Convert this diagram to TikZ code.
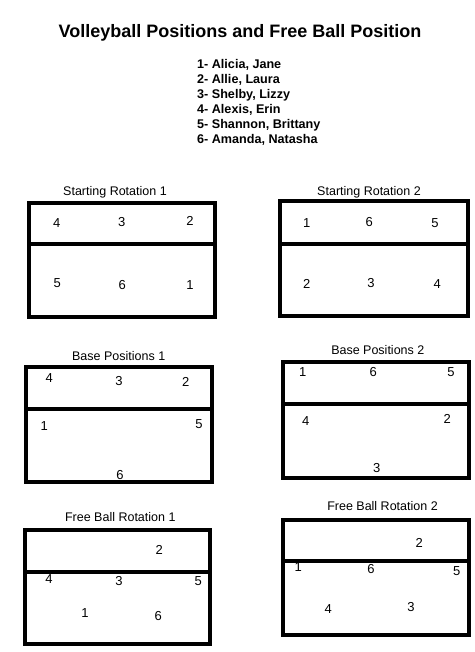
\documentclass[tikz,border=0pt]{standalone}
\usepackage{fontspec}
\setmainfont{Liberation Sans}
\begin{document}
\begin{tikzpicture}[x=1pt,y=-1pt,
  court/.style={line width=4pt, line join=miter},
  num/.style={inner sep=0pt, anchor=center, font=\fontsize{13}{15}\selectfont},
  ctitle/.style={inner sep=0pt, anchor=base, font=\fontsize{12.5}{15}\selectfont},
  maintitle/.style={inner sep=0pt, anchor=base, font=\fontsize{18}{22}\selectfont\bfseries},
  listline/.style={inner sep=0pt, anchor=base west, font=\fontsize{12.6}{15}\selectfont\bfseries}]
\useasboundingbox[fill=white] (0,0) rectangle (474,652);
% header
\node[maintitle] (title) at (240,37.5) {Volleyball Positions and Free Ball Position};
\node[listline] (l1) at (197,68.5) {1- Alicia, Jane};
\node[listline] (l2) at (197,83.5) {2- Allie, Laura};
\node[listline] (l3) at (197,98.5) {3- Shelby, Lizzy};
\node[listline] (l4) at (197,113.5) {4- Alexis, Erin};
\node[listline] (l5) at (197,128.5) {5- Shannon, Brittany};
\node[listline] (l6) at (197,143.5) {6- Amanda, Natasha};
% Starting Rotation 1
\node[ctitle] (t1) at (115,195.5) {Starting Rotation 1};
\draw[court] (29,203) rectangle (215,316.5);
\draw[court] (29,244) -- (215,244);
\node[num] (a4) at (56.7,223.3) {4};
\node[num] (a3) at (121.7,222.3) {3};
\node[num] (a2) at (190,221) {2};
\node[num] (a5) at (57.3,283.3) {5};
\node[num] (a6) at (122.3,285) {6};
\node[num] (a1) at (190,285) {1};
% Starting Rotation 2
\node[ctitle] (t2) at (369,195.5) {Starting Rotation 2};
\draw[court] (280,201.5) rectangle (467.5,316);
\draw[court] (280,244) -- (467.5,244);
\node[num] (b1) at (306.7,223.3) {1};
\node[num] (b6) at (369.3,221.7) {6};
\node[num] (b5) at (435,222.7) {5};
\node[num] (b2) at (306.7,284.3) {2};
\node[num] (b3) at (371,283.3) {3};
\node[num] (b4) at (437.3,284) {4};
% Base Positions 1
\node[ctitle] (t3) at (118.7,360) {Base Positions 1};
\draw[court] (26,367) rectangle (212,482);
\draw[court] (26,409) -- (212,409);
\node[num] (c4) at (49.3,377.7) {4};
\node[num] (c3) at (119,380.7) {3};
\node[num] (c2) at (185.7,381.7) {2};
\node[num] (c1) at (44.3,425.7) {1};
\node[num] (c5) at (199,424.3) {5};
\node[num] (c6) at (120,475) {6};
% Base Positions 2
\node[ctitle] (t4) at (377.8,354) {Base Positions 2};
\draw[court] (282.7,362) rectangle (468.7,478);
\draw[court] (282.7,404.3) -- (468.7,404.3);
\node[num] (d1) at (302.7,372.3) {1};
\node[num] (d6) at (373.3,372.3) {6};
\node[num] (d5) at (451,371.7) {5};
\node[num] (d4) at (305.7,421) {4};
\node[num] (d2) at (447.3,419) {2};
\node[num] (d3) at (376.7,467.7) {3};
% Free Ball Rotation 1
\node[ctitle] (t5) at (120.3,521) {Free Ball Rotation 1};
\draw[court] (25,529.5) rectangle (210,643.5);
\draw[court] (25,571.7) -- (210,571.7);
\node[num] (e2) at (159.3,550) {2};
\node[num] (e4) at (49,579) {4};
\node[num] (e3) at (119,581) {3};
\node[num] (e5) at (198.3,581) {5};
\node[num] (e1) at (85,613.3) {1};
\node[num] (e6) at (158.3,615.7) {6};
% Free Ball Rotation 2
\node[ctitle] (t6) at (382.5,510) {Free Ball Rotation 2};
\draw[court] (282.7,519.5) rectangle (468.7,634.5);
\draw[court] (282.7,561) -- (468.7,561);
\node[num] (f2) at (419.3,543.3) {2};
\node[num] (f1) at (298.3,566.7) {1};
\node[num] (f6) at (371,569) {6};
\node[num] (f5) at (456.7,570.7) {5};
\node[num] (f4) at (328.3,609.3) {4};
\node[num] (f3) at (411,606.7) {3};
\end{tikzpicture}
\end{document}
